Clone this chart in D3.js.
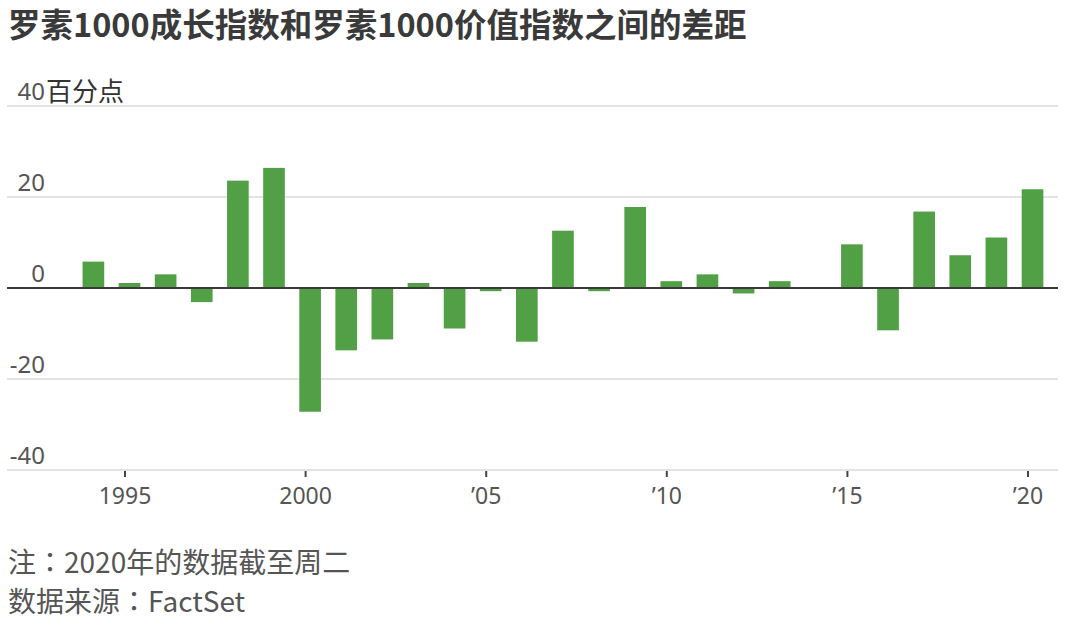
<!DOCTYPE html>
<html>
<head>
<meta charset="utf-8">
<title>罗素1000成长指数和罗素1000价值指数之间的差距</title>
<style>
  body { margin: 0; background: #fff; }
  svg text { font-family: "Noto Sans CJK SC", "Noto Sans", sans-serif; }
  svg text.num { font-family: "Noto Sans", "Open Sans", sans-serif; }
  tspan.colon { font-family: "Noto Sans CJK TC", sans-serif; }
</style>
</head>
<body>
<svg width="1080" height="632"></svg>
<script src="https://d3js.org/d3.v7.min.js"></script>
<script>

var years = [1994, 1995, 1996, 1997, 1998, 1999, 2000, 2001, 2002, 2003, 2004, 2005, 2006,
             2007, 2008, 2009, 2010, 2011, 2012, 2013, 2014, 2015, 2016, 2017, 2018, 2019, 2020];
var gap = [5.8, 1.1, 3.0, -3.1, 23.6, 26.4, -27.2, -13.7, -11.3, 1.1, -8.9, -0.7, -11.8,
           12.6, -0.7, 17.8, 1.5, 3.0, -1.2, 1.5, 0, 9.6, -9.3, 16.8, 7.2, 11.1, 21.7];
var yTicks = [-40, -20, 0, 20, 40];
var xTicks = [1995, 2000, 2005, 2010, 2015, 2020];
var xTickLabels = ["1995", "2000", "\u201905", "\u201910", "\u201915", "\u201920"];

var svg = d3.select("svg");

var x = d3.scaleLinear().domain([1995, 2020]).range([125, 1028]);
var y = d3.scaleLinear().domain([-40, 40]).range([470, 106]);
var step = x(1996) - x(1995),
    barW = step * 0.6,
    barShift = step * 0.125;

// title
svg.append("text")
    .attr("x", 8).attr("y", 37)
    .attr("font-size", 32.5).attr("font-weight", 700)
    .attr("fill", "#3a3a3a")
    .text("罗素1000成长指数和罗素1000价值指数之间的差距");

// grid
svg.append("g").selectAll("line")
  .data(yTicks.filter(function(d) { return d !== 0; }))
  .enter().append("line")
    .attr("x1", 7).attr("x2", 1058)
    .attr("y1", function(d) { return y(d); })
    .attr("y2", function(d) { return y(d); })
    .attr("stroke", "#e3e3e3").attr("stroke-width", 2);

// y labels
svg.append("g").selectAll("text")
  .data(yTicks)
  .enter().append("text")
    .attr("class", "num")
    .attr("x", 45)
    .attr("y", function(d) { return y(d) - 6; })
    .attr("text-anchor", "end")
    .attr("font-size", 24)
    .attr("fill", "#555")
    .text(function(d) { return d; });

svg.append("text")
    .attr("x", 46).attr("y", y(40) - 5)
    .attr("font-size", 26)
    .attr("fill", "#333")
    .text("百分点");

// bars
svg.append("g").selectAll("rect")
  .data(years)
  .enter().append("rect")
    .attr("x", function(d) { return x(d) + barShift - barW / 2; })
    .attr("width", barW)
    .attr("y", function(d, i) { return y(Math.max(0, gap[i])); })
    .attr("height", function(d, i) { return Math.abs(y(gap[i]) - y(0)); })
    .attr("fill", "#52a046");

// zero line
svg.append("line")
    .attr("x1", 7).attr("x2", 1058)
    .attr("y1", y(0)).attr("y2", y(0))
    .attr("stroke", "#3a3a3a").attr("stroke-width", 2);

// x axis ticks + labels
var xa = svg.append("g").selectAll("g")
  .data(xTicks)
  .enter().append("g")
    .attr("transform", function(d) { return "translate(" + x(d) + ",0)"; });

xa.append("line")
    .attr("y1", y(-40) + 1).attr("y2", y(-40) + 7)
    .attr("stroke", "#444").attr("stroke-width", 2);

xa.append("text")
    .attr("class", "num")
    .attr("y", 504)
    .attr("text-anchor", "middle")
    .attr("font-size", 23)
    .attr("fill", "#555")
    .text(function(d, i) { return xTickLabels[i]; });

// notes
var note = svg.append("text")
    .attr("x", 8).attr("y", 573)
    .attr("font-size", 28).attr("fill", "#555");
note.append("tspan").text("注");
note.append("tspan").attr("class", "colon").text("：");
note.append("tspan").text("2020年的数据截至周二");

var src = svg.append("text")
    .attr("x", 8).attr("y", 612)
    .attr("font-size", 28).attr("fill", "#555");
src.append("tspan").text("数据来源");
src.append("tspan").attr("class", "colon").text("：");
src.append("tspan").text("FactSet");

</script>
</body>
</html>
